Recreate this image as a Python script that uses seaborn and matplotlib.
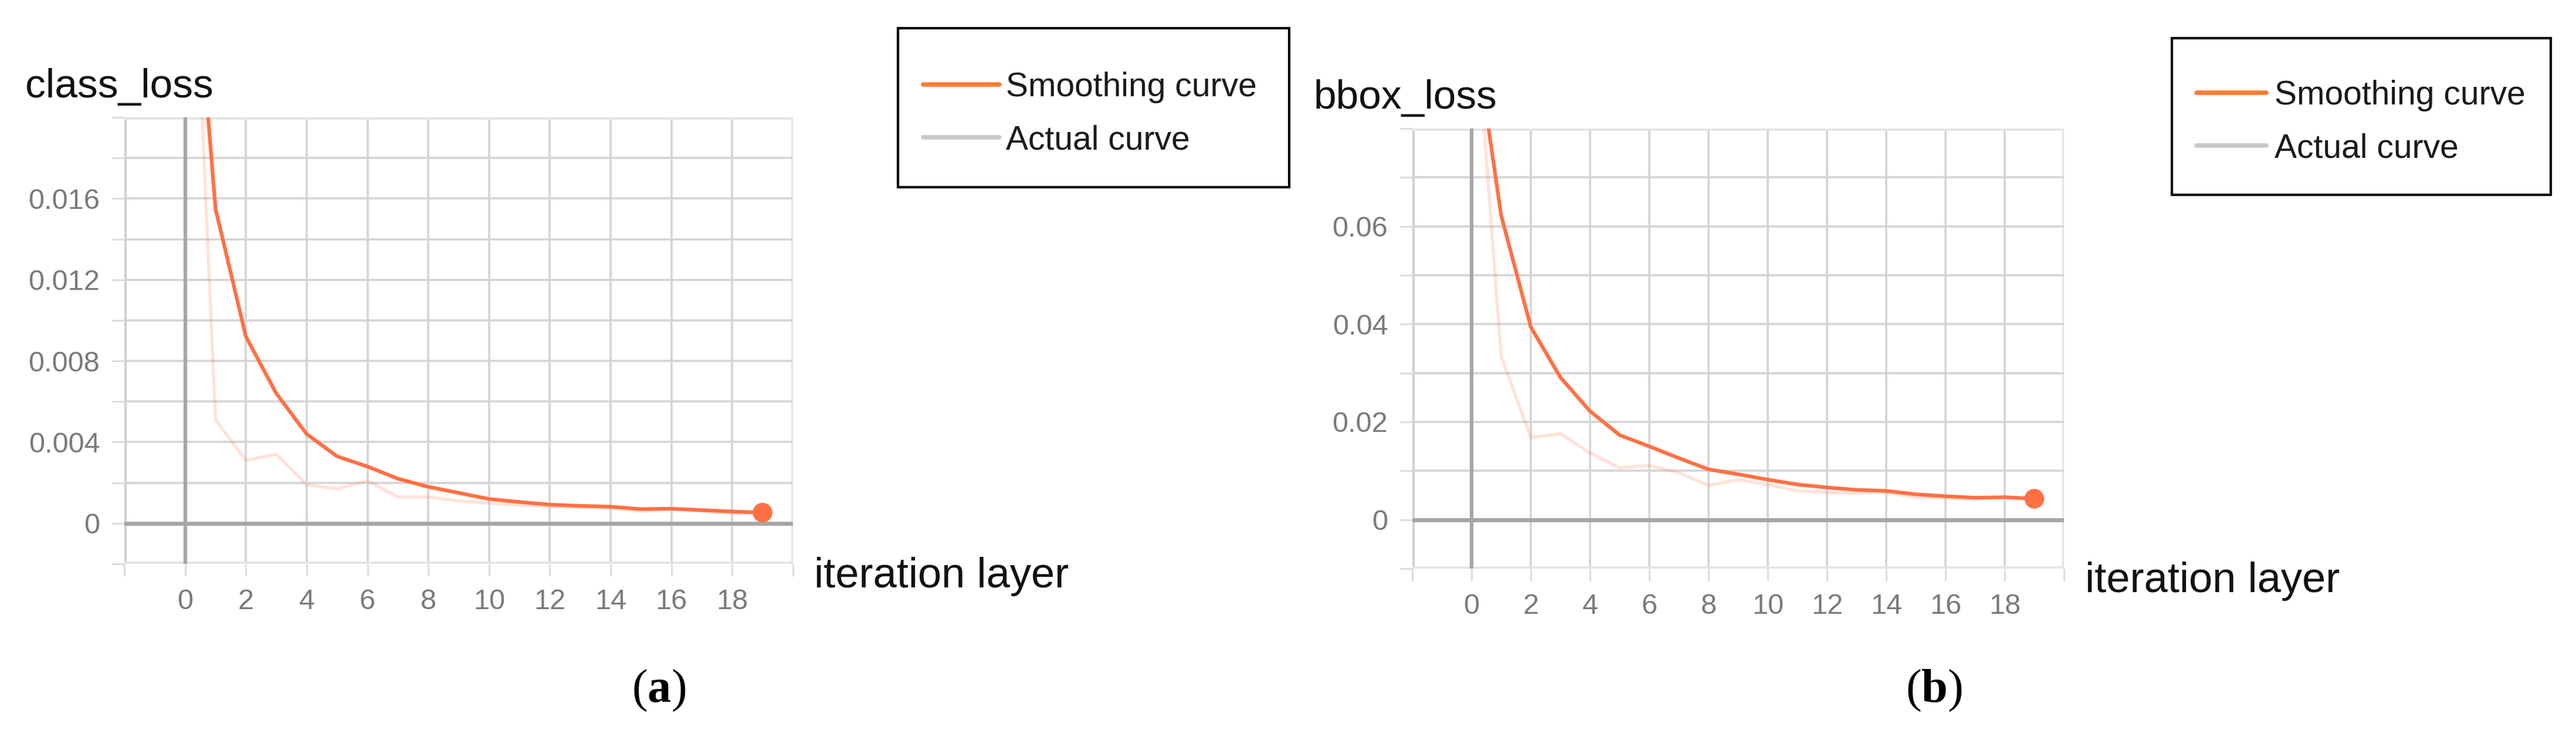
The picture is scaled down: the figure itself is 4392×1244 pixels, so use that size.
import numpy as np
import pandas as pd
import matplotlib
matplotlib.use("Agg")
import matplotlib.pyplot as plt
from matplotlib.lines import Line2D
from matplotlib.patches import Rectangle
import seaborn as sns

# ---------------- data ----------------
iterations = list(range(20))

class_smooth = [0.034, 0.0155, 0.0092, 0.0064, 0.0044, 0.0033, 0.0028, 0.0022,
                0.0018, 0.0015, 0.0012, 0.00105, 0.00092, 0.00086, 0.00082,
                0.0007, 0.00072, 0.00065, 0.00058, 0.00053]
class_actual = [0.039, 0.0051, 0.0031, 0.0034, 0.0019, 0.0017, 0.0021, 0.0013,
                0.0013, 0.0011, 0.001, 0.0009, 0.00082, 0.0008, 0.00075,
                0.0006, 0.0007, 0.0006, 0.0005, 0.0005]

bbox_smooth = [0.104, 0.0622, 0.0394, 0.0291, 0.0222, 0.0173, 0.015, 0.0126,
               0.0103, 0.0093, 0.0082, 0.0072, 0.0066, 0.0061, 0.0059,
               0.0052, 0.0048, 0.0045, 0.0046, 0.0043]
bbox_actual = [0.114, 0.0334, 0.0168, 0.0176, 0.0137, 0.0106, 0.0111, 0.0096,
               0.007, 0.0082, 0.0072, 0.0059, 0.0056, 0.0054, 0.0056,
               0.0046, 0.0044, 0.0042, 0.0046, 0.0043]

panel_titles = ["class_loss", "bbox_loss"]
x_label = "iteration layer"
legend_labels = ["Smoothing curve", "Actual curve"]
captions = ["a", "b"]

x_ticks = list(range(-2, 21, 2))
x_ticklabels = [""] + [str(v) for v in range(0, 19, 2)] + [""]

class_yticks = [-0.002, 0.0, 0.002, 0.004, 0.006, 0.008, 0.010, 0.012, 0.014, 0.016, 0.018, 0.020]
class_yticklabels = ["", "0", "", "0.004", "", "0.008", "", "0.012", "", "0.016", "", ""]
bbox_yticks = [-0.01, 0.0, 0.01, 0.02, 0.03, 0.04, 0.05, 0.06, 0.07, 0.08]
bbox_yticklabels = ["", "0", "", "0.02", "", "0.04", "", "0.06", "", ""]

# ---------------- style ----------------
sns.set_style("white")
plt.rcParams["font.family"] = ["Liberation Sans", "DejaVu Sans"]
plt.rcParams["mathtext.fontset"] = "custom"
plt.rcParams["mathtext.rm"] = "Liberation Serif"
plt.rcParams["mathtext.bf"] = "Liberation Serif:bold"

W, H = 4392, 1244
DPI = 100
fig = plt.figure(figsize=(W / DPI, H / DPI), dpi=DPI)
fig.patch.set_facecolor("white")

SMOOTH = "#ff7043"
ACTUAL = "#ff7043"
GRID = "#d4d4d4"
BORDER = "#e4e4e4"
ZERO = "#a6a6a6"
TICKTXT = "#7a7a7a"

def px(x0, y0, x1, y1):
    return [x0 / W, 1 - y1 / H, (x1 - x0) / W, (y1 - y0) / H]

axes_rects = [px(212, 200, 1352, 961), px(2408, 219, 3519, 969)]
ylims = [(-0.002, 0.020), (-0.01, 0.08)]
yticks = [class_yticks, bbox_yticks]
yticklabels = [class_yticklabels, bbox_yticklabels]
smooths = [class_smooth, bbox_smooth]
actuals = [class_actual, bbox_actual]
legend_boxes = [(1531, 48, 2198, 319), (3703, 65, 4349, 332)]
legend_rows = [(1574, 194, 2.28, 0.19), (3745, 208, 2.09, 0.25)]
caption_pos = [(1123, 1177), (3297, 1177)]

for i in range(2):
    ax = fig.add_axes(axes_rects[i])
    df = pd.DataFrame({"iteration": iterations,
                       "smooth": smooths[i],
                       "actual": actuals[i]})

    ax.set_xlim(-2, 20)
    ax.set_ylim(*ylims[i])
    ax.set_xticks(x_ticks)
    ax.set_xticklabels(x_ticklabels)
    ax.set_yticks(yticks[i])
    ax.set_yticklabels(yticklabels[i])

    ax.grid(True, color=GRID, lw=2.6, zorder=0)
    ax.set_axisbelow(True)
    xg = ax.xaxis.get_gridlines()
    yg = ax.yaxis.get_gridlines()
    xg[-1].set_color(BORDER); xg[-1].set_linewidth(5)
    xg[0].set_color("#d0d0d0"); xg[0].set_linewidth(5)
    yg[0].set_color(BORDER); yg[0].set_linewidth(5.5)
    yg[-1].set_color(BORDER); yg[-1].set_linewidth(5.5)

    for s in ax.spines.values():
        s.set_visible(False)
    ax.tick_params(axis="both", length=15, width=2, color="#dadada",
                   pad=15, labelsize=35, labelcolor=TICKTXT,
                   bottom=True, left=True)

    ax.axhline(0, color=ZERO, lw=5, zorder=1)
    ax.axvline(0, color=ZERO, lw=4.5, zorder=1)

    sns.lineplot(data=df, x="iteration", y="actual", ax=ax, color=ACTUAL,
                 alpha=0.2, lw=4, zorder=2, legend=False)
    sns.lineplot(data=df, x="iteration", y="smooth", ax=ax, color=SMOOTH,
                 lw=4.5, zorder=3, legend=False)
    sns.scatterplot(data=df.tail(1), x="iteration", y="smooth", ax=ax,
                    color=SMOOTH, s=580, edgecolor="none", zorder=4,
                    legend=False, clip_on=False)
    ax.set_xlabel("")
    ax.set_ylabel("")

    ax.annotate(panel_titles[i], xy=(0, 1), xycoords="axes fraction",
                xytext=(-121.5, 24.5), textcoords="offset points",
                ha="left", va="baseline", fontsize=50, color="#111111")
    ax.annotate(x_label, xy=(1, 0), xycoords="axes fraction",
                xytext=(26, -29), textcoords="offset points",
                ha="left", va="baseline", fontsize=52, color="#111111")

    # legend frame
    bx0, by0, bx1, by1 = legend_boxes[i]
    fig.add_artist(Rectangle((bx0 / W, 1 - by1 / H), (bx1 - bx0) / W,
                             (by1 - by0) / H, transform=fig.transFigure,
                             facecolor="white", edgecolor="black", lw=3))
    handles = [Line2D([], [], color="#ff7a33", lw=5.5),
               Line2D([], [], color="#c8c8c8", lw=5.5)]
    hx, hy, hl, hp = legend_rows[i]
    leg = fig.legend(handles, legend_labels, loc="center left",
                     bbox_to_anchor=(hx / W, 1 - hy / H),
                     bbox_transform=fig.transFigure, borderaxespad=0,
                     fontsize=41, frameon=False, borderpad=0,
                     handlelength=hl, handletextpad=hp, labelspacing=0.64)
    for t in leg.get_texts():
        t.set_color("#1a1a1a")

    cx, cy = caption_pos[i]
    fig.text(cx / W, 1 - cy / H, r"$\mathrm{(}\mathbf{%s}\mathrm{)}$" % captions[i],
             ha="center", va="center", fontsize=58, color="black")

fig.savefig("out.png", dpi=DPI, facecolor="white")
